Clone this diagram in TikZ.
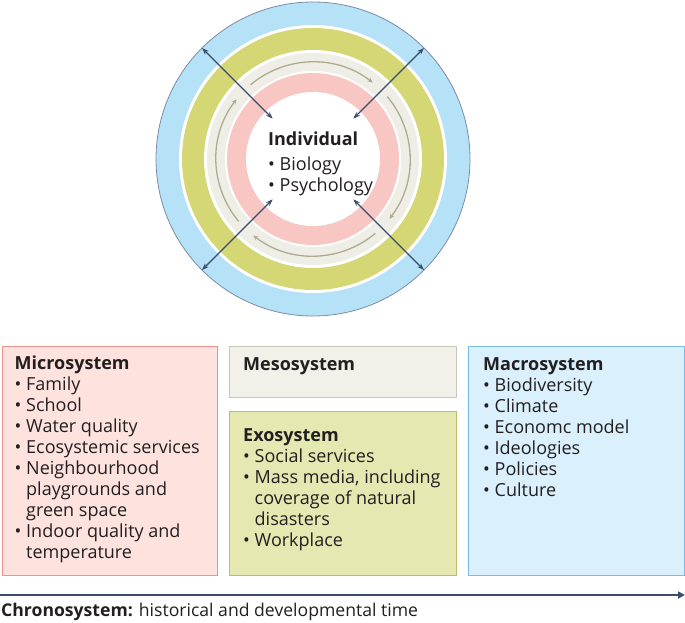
\documentclass[tikz,border=0pt]{standalone}
\usepackage{fontspec}
\setmainfont{Open Sans}
\usetikzlibrary{arrows.meta,calc}
\definecolor{ringblue}{HTML}{B5E2F7}
\definecolor{ringgreen}{HTML}{D4D774}
\definecolor{ringbeige}{HTML}{EEEEE6}
\definecolor{ringpink}{HTML}{F8C7C3}
\definecolor{navy}{HTML}{3A4D6D}
\definecolor{arcgray}{HTML}{ADAC90}
\definecolor{outline}{HTML}{7D8CA8}
\definecolor{microfill}{HTML}{FDE2DE}
\definecolor{microdraw}{HTML}{EE9290}
\definecolor{mesofill}{HTML}{F1F0E9}
\definecolor{mesodraw}{HTML}{C9C7B9}
\definecolor{exofill}{HTML}{E6E8B2}
\definecolor{exodraw}{HTML}{B7BE66}
\definecolor{macrofill}{HTML}{DAF0FC}
\definecolor{macrodraw}{HTML}{7BBBE3}
\definecolor{txt}{HTML}{231F20}
\newcommand{\itm}[1]{\makebox[11.5pt][l]{•}#1}
\newcommand{\cnt}[1]{\hspace*{11.5pt}#1}
\tikzset{
  sysbox/.style={draw=#1draw, fill=#1fill, line width=0.9pt},
  listtxt/.style={anchor=base west, inner sep=0pt, text=txt},
  linkarrow/.style={navy, line width=1.1pt, {Stealth[length=7pt,width=5pt]}-{Stealth[length=7pt,width=5pt]}},
  looparrow/.style={arcgray, line width=1.3pt, -{Stealth[length=5pt,width=4.5pt]}},
}
\begin{document}
\begin{tikzpicture}[x=1pt,y=-1pt, font=\fontsize{18}{21}\selectfont]
\useasboundingbox (0,0) rectangle (685,622);
\coordinate (c) at (313,159);
% rings
\fill[ringblue] (c) circle[radius=157];
\draw[outline, line width=0.8pt] (c) circle[radius=157];
\fill[white] (c) circle[radius=134];
\fill[ringgreen] (c) circle[radius=131];
\fill[white] (c) circle[radius=109];
\fill[ringbeige] (c) circle[radius=106];
\fill[white] (c) circle[radius=88];
\fill[ringpink] (c) circle[radius=86];
\fill[white] (c) circle[radius=67];
% loop arrows in the mesosystem ring
\foreach \a in {-90,0,90,180}{
  \draw[looparrow] ($(c)+(\a-40:97)$) arc[start angle=\a-40, end angle=\a+38, radius=97];
}
% link arrows
\foreach \a [count=\i] in {45,135,225,315}{
  \coordinate (in\i) at ($(c)+(\a:57)$);
  \coordinate (out\i) at ($(c)+(\a:157)$);
  \draw[linkarrow] (in\i) -- (out\i);
}
% individual text
\node[listtxt] (indiv) at (268,145) {\parbox[t]{130pt}{\textbf{Individual}\\[4pt]\itm{Biology}\\\itm{Psychology}}};
% boxes
\path[sysbox=micro] (2,346) rectangle (217,575);
\path[sysbox=meso] (229,346) rectangle (456,397);
\path[sysbox=exo] (229,411) rectangle (456,575);
\path[sysbox=macro] (468,346) rectangle (684,575);
\node[listtxt] (microtxt) at (14.5,369) {\parbox[t]{200pt}{\textbf{Microsystem}\\
\itm{Family}\\\itm{School}\\\itm{Water quality}\\\itm{Ecosystemic services}\\
\itm{Neighbourhood}\\\cnt{playgrounds and}\\\cnt{green space}\\
\itm{Indoor quality and}\\\cnt{temperature}}};
\node[listtxt] (mesotxt) at (243,370) {\textbf{Mesosystem}};
\node[listtxt] (exotxt) at (243,441) {\parbox[t]{210pt}{\textbf{Exosystem}\\
\itm{Social services}\\\itm{Mass media, including}\\\cnt{coverage of natural}\\\cnt{disasters}\\\itm{Workplace}}};
\node[listtxt] (macrotxt) at (483,370) {\parbox[t]{200pt}{\textbf{Macrosystem}\\
\itm{Biodiversity}\\\itm{Climate}\\\itm{Economc model}\\\itm{Ideologies}\\\itm{Policies}\\\itm{Culture}}};
% chronosystem
\coordinate (tstart) at (0,595);
\coordinate (tend) at (685,595);
\draw[navy, line width=1.8pt, -{Triangle[length=7pt,width=7pt]}] (tstart) -- (tend);
\node[listtxt, font=\fontsize{17.6}{21}\selectfont] (chrono) at (1,616) {\textbf{Chronosystem:} historical and developmental time};
\end{tikzpicture}
\end{document}
